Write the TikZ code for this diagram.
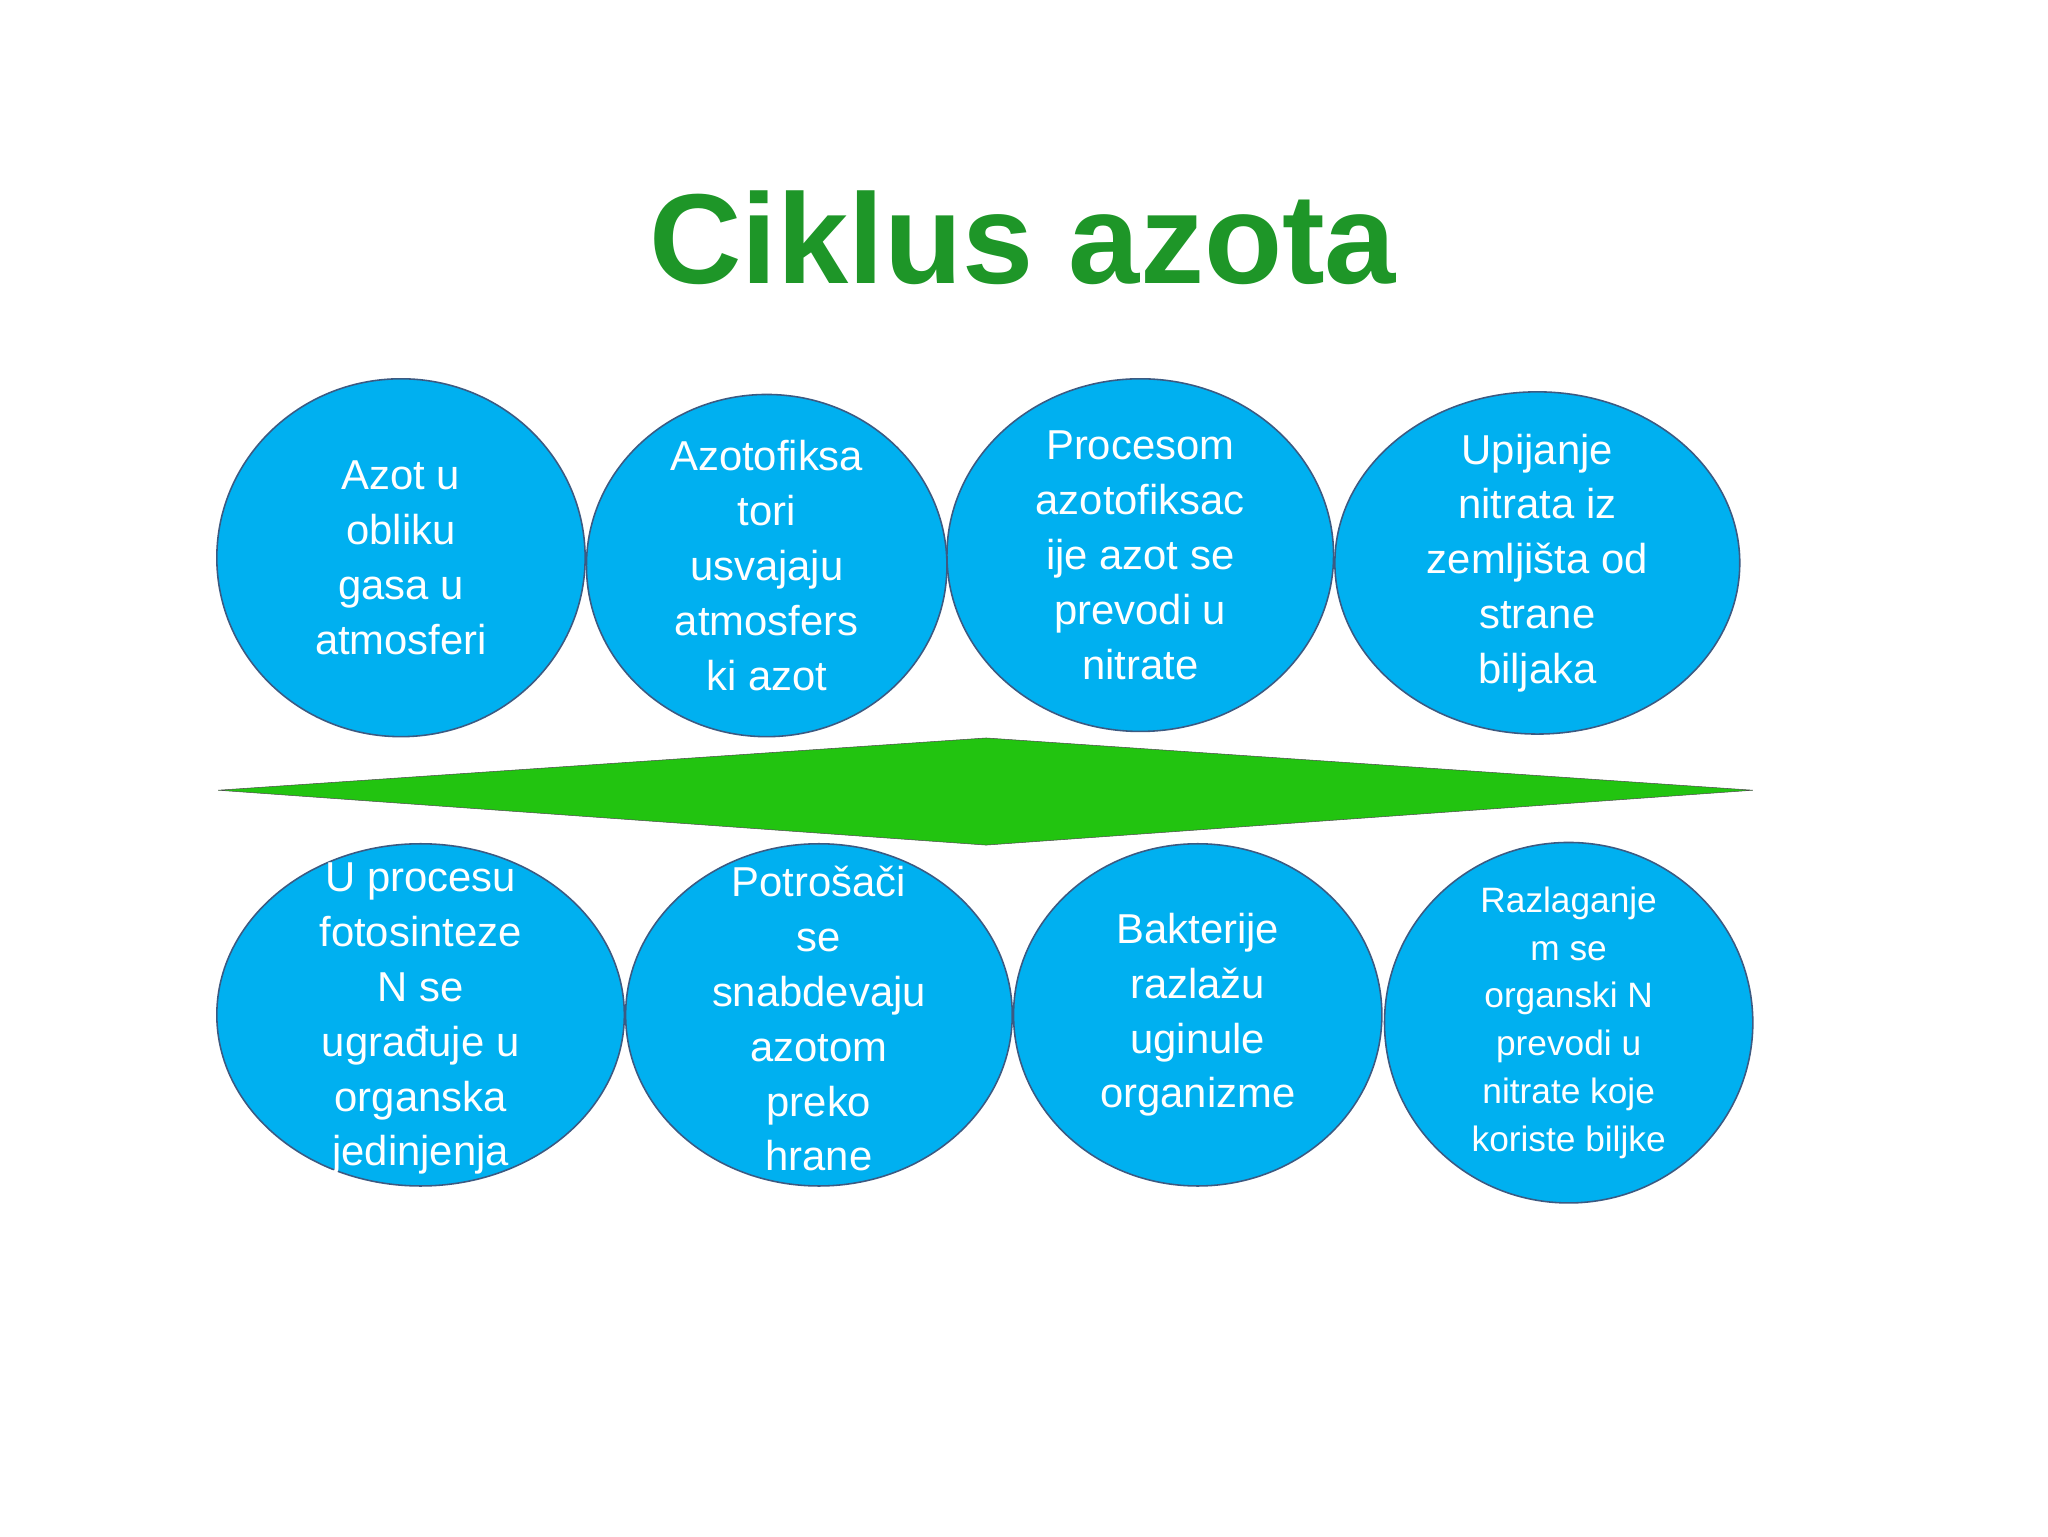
\documentclass[tikz,border=0pt]{standalone}
\usepackage{fontspec}
\setmainfont{Liberation Sans}
\usetikzlibrary{shapes.geometric}
\definecolor{bubblefill}{RGB}{0,176,240}
\definecolor{bubbleline}{RGB}{60,90,130}
\definecolor{leafgreen}{RGB}{34,196,16}
\definecolor{titlegreen}{RGB}{30,150,40}
\tikzset{
  bubble/.style={ellipse,draw=bubbleline,line width=1.2pt,fill=bubblefill,inner sep=0pt},
  bubbletext/.style={align=center,text=white,font=\fontsize{32}{42}\selectfont},
}
\begin{document}
\begin{tikzpicture}[x=1pt,y=-1pt]
\useasboundingbox (0,0) rectangle (1568,1176);
\fill[white] (0,0) rectangle (1568,1176);

% title
\node (title) at (783,182) {\fontsize{98}{110}\selectfont\bfseries\color{titlegreen}Ciklus azota};

% upper row
\node[bubble,minimum width=282,minimum height=274] (gas) at (307,427) {};
\node[bubble,minimum width=276,minimum height=262] (fix) at (587,433) {};
\node[bubble,minimum width=296,minimum height=270] (nitr) at (873,425) {};
\node[bubble,minimum width=310,minimum height=262] (upij) at (1177,431) {};

\node[bubbletext] at (gas) {Azot u\\obliku\\gasa u\\atmosferi};
\node[bubbletext] at (fix) {Azotofiksa\\tori\\usvajaju\\atmosfers\\ki azot};
\node[bubbletext] at (nitr) {Procesom\\azotofiksac\\ije azot se\\prevodi u\\nitrate};
\node[bubbletext] at (upij) {Upijanje\\nitrata iz\\zemljišta od\\strane\\biljaka};

% green diamond
\coordinate (dl) at (167,605);
\coordinate (dt) at (755,565);
\coordinate (dr) at (1342,605);
\coordinate (db) at (755,647);
\draw[fill=leafgreen,draw=black!70] (dl) -- (dt) -- (dr) -- (db) -- cycle;

% lower row
\node[bubble,minimum width=312,minimum height=262] (foto) at (322,777) {};
\node[bubble,minimum width=296,minimum height=262] (potr) at (627,777) {};
\node[bubble,minimum width=282,minimum height=262] (bakt) at (917,777) {};
\node[bubble,minimum width=282,minimum height=276] (razl) at (1201,783) {};

\node[bubbletext] at (322,780) {U procesu\\fotosinteze\\N se\\ugrađuje u\\organska\\jedinjenja};
\node[bubbletext] at (627,780) {Potrošači\\se\\snabdevaju\\azotom\\preko\\hrane};
\node[bubbletext] at (bakt) {Bakterije\\razlažu\\uginule\\organizme};
\node[bubbletext,font=\fontsize{27}{36.5}\selectfont] at (razl) {Razlaganje\\m se\\organski N\\prevodi u\\nitrate koje\\koriste biljke};
\end{tikzpicture}
\end{document}
